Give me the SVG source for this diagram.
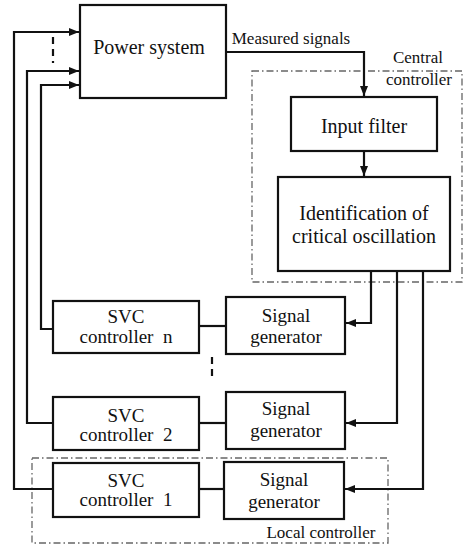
<svg xmlns="http://www.w3.org/2000/svg" width="474" height="553" viewBox="0 0 474 553" font-family="Liberation Serif, DejaVu Serif, serif">
<style>
.box{fill:#fff;stroke:#111;stroke-width:2.2}
.ln{fill:none;stroke:#111;stroke-width:2.2}
.dd{fill:none;stroke:#666;stroke-width:1.3;stroke-dasharray:7,3,1.5,3}
.dash{fill:none;stroke:#111;stroke-width:2.2;stroke-dasharray:7,5}
text{fill:#111;text-anchor:middle}
.big{font-size:20px}
.mid{font-size:19px}
.sm{font-size:17px}
</style>
<defs>
<marker id="arr" viewBox="0 0 10 10" refX="10" refY="5" markerWidth="10" markerHeight="10" markerUnits="userSpaceOnUse" orient="auto">
<path d="M0,1 L10,5 L0,9 Z" fill="#111"/>
</marker>
</defs>
<g id="groups">
<rect class="dd" x="252" y="71" width="210" height="211"/>
<text class="sm" x="418" y="63" font-family="Liberation Serif, serif">Central</text>
<text class="sm" x="419" y="85" font-family="Liberation Serif, serif">controller</text>
<rect class="dd" x="32" y="458" width="356" height="85"/>
<text class="sm" x="321" y="538" font-family="Liberation Serif, serif">Local controller</text>
</g>
<g id="connectors">
<path class="ln" d="M226,52 H364 V96" marker-end="url(#arr)"/>
<path class="ln" d="M364,151 V176" marker-end="url(#arr)"/>
<path class="ln" d="M371,271 V323 H346" marker-end="url(#arr)"/>
<path class="ln" d="M397,271 V423 H346" marker-end="url(#arr)"/>
<path class="ln" d="M423,271 V489 H345" marker-end="url(#arr)"/>
<path class="ln" d="M53,329 H41 V85 H79" marker-end="url(#arr)"/>
<path class="ln" d="M53,423 H27 V71 H79" marker-end="url(#arr)"/>
<path class="ln" d="M53,489 H14 V32 H79" marker-end="url(#arr)"/>
<path class="ln" d="M199,326 H226"/>
<path class="ln" d="M199,423 H226"/>
<path class="ln" d="M199,489 H224"/>
<path class="dash" d="M53,37 V63"/>
<path class="dash" d="M212,357 V381"/>
<text class="sm" x="291" y="44" font-family="Liberation Serif, serif">Measured signals</text>
</g>
<g id="power" font-family="Liberation Serif, serif">
<rect class="box" x="80" y="5" width="146" height="93"/>
<text class="big" x="149" y="54">Power system</text>
</g>
<g id="inputfilter" font-family="Liberation Serif, serif">
<rect class="box" x="291" y="97" width="146" height="54"/>
<text class="big" x="364" y="133">Input filter</text>
</g>
<g id="identification" font-family="Liberation Serif, serif">
<rect class="box" x="278" y="177" width="172" height="94"/>
<text class="big" x="364" y="220">Identification of</text>
<text class="big" x="364" y="243">critical oscillation</text>
</g>
<g id="svcn" font-family="Liberation Serif, serif">
<rect class="box" x="53" y="301" width="146" height="52"/>
<text class="mid" x="126" y="323">SVC</text>
<text class="mid" x="126" y="343" xml:space="preserve">controller  n</text>
</g>
<g id="sign" font-family="Liberation Serif, serif">
<rect class="box" x="226" y="297" width="119" height="57"/>
<text class="mid" x="286" y="322">Signal</text>
<text class="mid" x="286" y="343">generator</text>
</g>
<g id="svc2" font-family="Liberation Serif, serif">
<rect class="box" x="53" y="397" width="146" height="53"/>
<text class="mid" x="126" y="422">SVC</text>
<text class="mid" x="126" y="441" xml:space="preserve">controller  2</text>
</g>
<g id="sig2" font-family="Liberation Serif, serif">
<rect class="box" x="226" y="392" width="119" height="57"/>
<text class="mid" x="286" y="415">Signal</text>
<text class="mid" x="286" y="437">generator</text>
</g>
<g id="svc1" font-family="Liberation Serif, serif">
<rect class="box" x="53" y="463" width="146" height="54"/>
<text class="mid" x="126" y="487">SVC</text>
<text class="mid" x="126" y="506" xml:space="preserve">controller  1</text>
</g>
<g id="sig1" font-family="Liberation Serif, serif">
<rect class="box" x="224" y="462" width="120" height="57"/>
<text class="mid" x="284" y="486">Signal</text>
<text class="mid" x="284" y="508">generator</text>
</g>
</svg>
